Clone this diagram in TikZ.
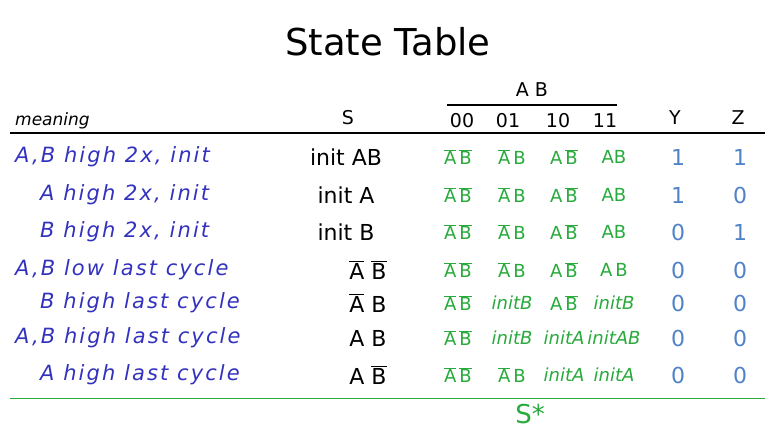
\documentclass[tikz,border=0pt]{standalone}
\usepackage{fontspec}
\setmainfont{DejaVu Sans}
\definecolor{mblue}{RGB}{50,50,190}
\definecolor{mgreen}{RGB}{40,170,60}
\definecolor{lblue}{RGB}{80,130,200}
\newcommand{\nA}{$\overline{\mbox{A}}$}
\newcommand{\nB}{$\overline{\mbox{B}}$}
\begin{document}
\begin{tikzpicture}[x=1pt,y=-1pt,
  mean/.style={anchor=west,text=mblue,font=\fontsize{21}{23}\selectfont\itshape\addfontfeature{LetterSpace=10},inner sep=0},
  st/.style={anchor=center,font=\fontsize{22}{24}\selectfont,inner sep=0},
  cell/.style={anchor=center,text=mgreen,font=\fontsize{18}{20}\selectfont,inner sep=0},
  cellw/.style={anchor=center,text=mgreen,font=\fontsize{16}{18}\selectfont\itshape,inner sep=0},
  yz/.style={anchor=center,text=lblue,font=\fontsize{22}{24}\selectfont,inner sep=0},
  hd/.style={anchor=center,font=\fontsize{19}{21}\selectfont,inner sep=0}]
\useasboundingbox (0,0) rectangle (775,432);
\node[font=\fontsize{37}{40}\selectfont] (title) at (388,42) {State Table};
\node[hd] (ab) at (532,90) {A B};
\coordinate (l1) at (447,105); \coordinate (l2) at (617,105);
\draw[line width=1.5pt] (l1) -- (l2);
\node[hd] (h1) at (462,121) {00};
\node[hd] (h2) at (508,121) {01};
\node[hd] (h3) at (558,121) {10};
\node[hd] (h4) at (605,121) {11};
\node[hd] (hs) at (348,118) {S};
\node[hd] (hy) at (675,118) {Y};
\node[hd] (hz) at (738,118) {Z};
\node[hd,anchor=west,font=\fontsize{17}{19}\selectfont\itshape] (hm) at (15,121) {meaning};
\coordinate (m1) at (10,133); \coordinate (m2) at (765,133);
\draw[line width=1.5pt] (m1) -- (m2);
\foreach \y/\ind/\m/\s/\a/\b/\c/\d/\yv/\zv [count=\i] in {
157/15/{A,B high 2x, init}/{init AB}/{\nA\,\nB}/{\nA\,B}/{A\,\nB}/{AB}/1/1,
195/40/{A high 2x, init}/{init A}/{\nA\,\nB}/{\nA\,B}/{A\,\nB}/{AB}/1/0,
232/40/{B high 2x, init}/{init B}/{\nA\,\nB}/{\nA\,B}/{A\,\nB}/{AB}/0/1,
270/15/{A,B low last cycle}/{\nA\ \nB}/{\nA\,\nB}/{\nA\,B}/{A\,\nB}/{A\,B}/0/0,
303/40/{B high last cycle}/{\nA\ B}/{\nA\,\nB}/{\itshape initB}/{A\,\nB}/{\itshape initB}/0/0,
338/15/{A,B high last cycle}/{A\ B}/{\nA\,\nB}/{\itshape initB}/{\itshape initA}/{\itshape initAB}/0/0,
375/40/{A high last cycle}/{A\ \nB}/{\nA\,\nB}/{\nA\,B}/{\itshape initA}/{\itshape initA}/0/0}{
  \node[mean] (m\i) at (\ind,\y) {\m};
  \node[st] (s\i) at (\ifnum\i<4 346\else 368\fi,\y) {\s};
  \node[cell] (ca\i) at (458,\y) {\a};
  \node[cell] (cb\i) at (512,\y) {\b};
  \node[cell] (cc\i) at (564,\y) {\c};
  \node[cell] (cd\i) at (614,\y) {\d};
  \node[yz] (y\i) at (678,\y) {\yv};
  \node[yz] (z\i) at (740,\y) {\zv};
}
\coordinate (b1) at (10,398); \coordinate (b2) at (765,398);
\draw[mgreen,line width=1pt] (b1) -- (b2);
\node[text=mgreen,font=\fontsize{26}{28}\selectfont] (ss) at (530,414) {S*};
\end{tikzpicture}
\end{document}
